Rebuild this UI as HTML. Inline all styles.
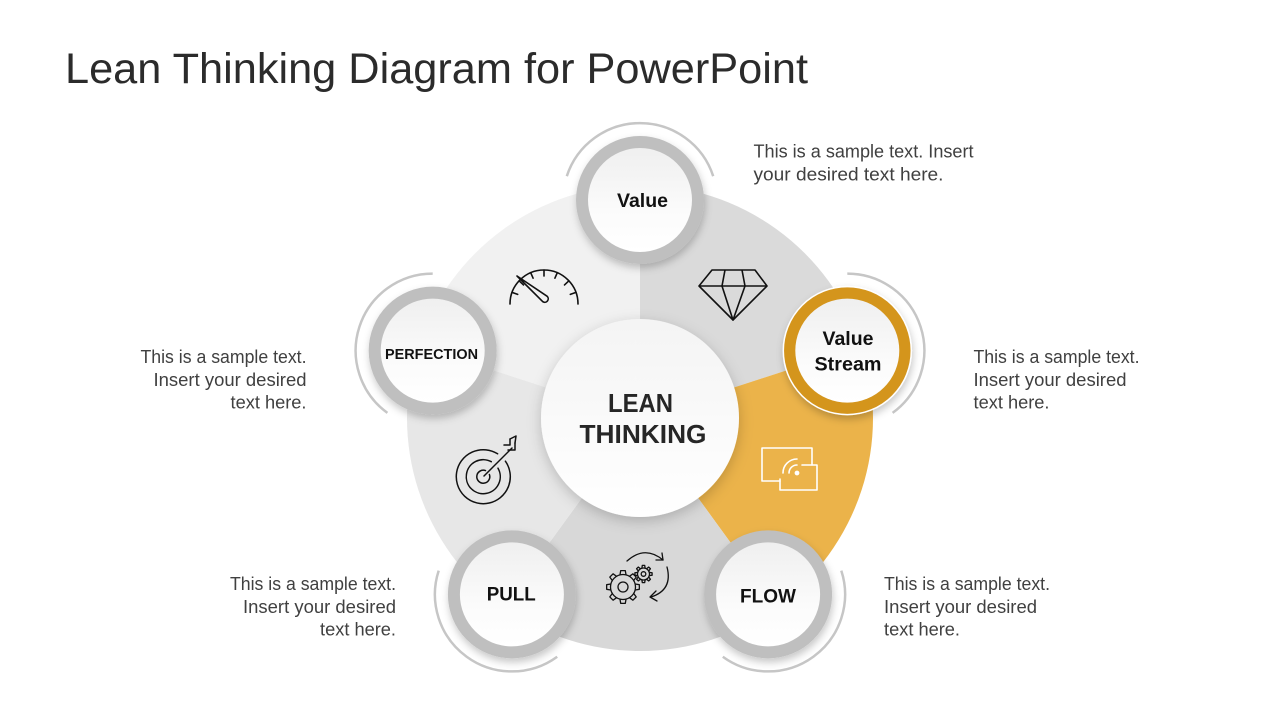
<!DOCTYPE html>
<html><head><meta charset="utf-8"><style>
html,body{margin:0;padding:0;background:#fff;}
svg{display:block;}
text{font-family:"Liberation Sans",Arial,sans-serif;}
</style></head><body>
<svg width="1280" height="720" viewBox="0 0 1280 720" xmlns="http://www.w3.org/2000/svg">
<defs>
  <filter id="sh" x="-30%" y="-30%" width="160%" height="160%">
    <feDropShadow dx="1" dy="4" stdDeviation="4" flood-color="#000" flood-opacity="0.22"/>
  </filter>
  <filter id="shc" x="-30%" y="-30%" width="160%" height="160%">
    <feDropShadow dx="0" dy="4" stdDeviation="7" flood-color="#000" flood-opacity="0.2"/>
  </filter>
  <linearGradient id="gi" x1="0" y1="0" x2="0" y2="1">
    <stop offset="0" stop-color="#efefef"/>
    <stop offset="0.6" stop-color="#fbfbfb"/>
    <stop offset="1" stop-color="#ffffff"/>
  </linearGradient>
  <linearGradient id="gc" x1="0" y1="0" x2="0" y2="1">
    <stop offset="0" stop-color="#f4f4f4"/>
    <stop offset="1" stop-color="#ffffff"/>
  </linearGradient>
</defs>

<text x="65" y="83" font-size="43" fill="#2b2b2b" textLength="743" lengthAdjust="spacingAndGlyphs">Lean Thinking Diagram for PowerPoint</text>

<path d="M640 418 L418.4 346 A233 233 0 0 1 640 185 Z" fill="#f1f1f1"/>
<path d="M640 418 L640 185 A233 233 0 0 1 861.6 346 Z" fill="#dadada"/>
<path d="M640 418 L861.6 346 A233 233 0 0 1 776.95 606.5 Z" fill="#ebb34a"/>
<path d="M640 418 L776.95 606.5 A233 233 0 0 1 503.05 606.5 Z" fill="#d8d8d8"/>
<path d="M640 418 L503.05 606.5 A233 233 0 0 1 418.4 346 Z" fill="#e7e7e7"/>

<circle cx="640" cy="418" r="99" fill="url(#gc)" filter="url(#shc)"/>
<text x="640.5" y="412" font-size="26" font-weight="bold" fill="#262626" text-anchor="middle" textLength="65" lengthAdjust="spacingAndGlyphs">LEAN</text>
<text x="643" y="443" font-size="26" font-weight="bold" fill="#262626" text-anchor="middle" textLength="127" lengthAdjust="spacingAndGlyphs">THINKING</text>

<g fill="none" stroke="#c6c6c6" stroke-width="2.5">
  <path d="M566.8 176.2 A77 77 0 0 1 713.2 176.2"/>
  <path d="M847.3 273.6 A77 77 0 0 1 892.6 412.9"/>
  <path d="M841.3 570.6 A77 77 0 0 1 722.8 656.7"/>
  <path d="M557.2 656.7 A77 77 0 0 1 438.7 570.6"/>
  <path d="M387.4 412.9 A77 77 0 0 1 432.7 273.6"/>
</g>

<g filter="url(#sh)">
  <circle cx="640" cy="200" r="64" fill="#bfbfbf"/>
  <circle cx="847.3" cy="350.6" r="64" fill="#d4951d" stroke="#fff" stroke-width="1.5"/>
  <circle cx="768.1" cy="594.4" r="64" fill="#bfbfbf"/>
  <circle cx="511.9" cy="594.4" r="64" fill="#bfbfbf"/>
  <circle cx="432.7" cy="350.6" r="64" fill="#bfbfbf"/>
</g>
<g fill="url(#gi)">
  <circle cx="640" cy="200" r="52"/>
  <circle cx="847.3" cy="350.6" r="52"/>
  <circle cx="768.1" cy="594.4" r="52"/>
  <circle cx="511.9" cy="594.4" r="52"/>
  <circle cx="432.7" cy="350.6" r="52"/>
</g>

<g font-weight="bold" fill="#111" text-anchor="middle">
  <text x="642.5" y="207" font-size="19" textLength="51" lengthAdjust="spacingAndGlyphs">Value</text>
  <text x="848" y="345" font-size="19" textLength="51" lengthAdjust="spacingAndGlyphs">Value</text>
  <text x="848" y="370.5" font-size="19" textLength="67" lengthAdjust="spacingAndGlyphs">Stream</text>
  <text x="431.5" y="359" font-size="14.5" textLength="93" lengthAdjust="spacingAndGlyphs">PERFECTION</text>
  <text x="511.2" y="600.5" font-size="19.5" textLength="49" lengthAdjust="spacingAndGlyphs">PULL</text>
  <text x="768" y="602.5" font-size="19.5" textLength="56" lengthAdjust="spacingAndGlyphs">FLOW</text>
</g>

<g fill="none" stroke="#111" stroke-width="1.6" stroke-linecap="round">
  <path d="M510 304 A34 34 0 0 1 578 304"/>
  <path d="M512 292.4 L517.7 294.4 M519.1 280.8 L523.5 284.9 M530.7 272.7 L533.1 278.2 M544 270 L544 276 M557.3 272.7 L554.9 278.2 M568.9 280.8 L564.5 284.9 M576 292.4 L570.3 294.4"/>
  <path d="M517 276 L547.2 296.3 A3.5 3.5 0 0 1 542.8 301.7 Z" fill="#f1f1f1" stroke-linejoin="round"/>
</g>
<g fill="none" stroke="#111" stroke-width="1.6" stroke-linejoin="round">
  <path d="M712 270 L755 270 L767 286 L733 320 L699 286 Z"/>
  <path d="M699 286 L767 286"/>
  <path d="M725 270 L722 286 L733 320 L745 286 L742 270"/>
</g>
<g fill="none" stroke="#fff" stroke-width="1.6" stroke-linejoin="round" stroke-linecap="round">
  <path d="M780 481 L762 481 L762 448 L812 448 L812 465"/>
  <path d="M802 465 L817 465 L817 490 L780 490 L780 479"/>
  <path d="M789 473 A8 8 0 0 1 797 465"/>
  <path d="M783 473 A14 14 0 0 1 797 459"/>
  <circle cx="797" cy="473" r="1.6" fill="#fff"/>
</g>
<g fill="none" stroke="#111" stroke-width="1.5" stroke-linecap="round" stroke-linejoin="round">
  <path d="M505.4 461.2 A27 27 0 1 1 497.6 453.8"/>
  <path d="M498 468.2 A17 17 0 1 1 491.3 461.7"/>
  <path d="M489.4 474.5 A6.5 6.5 0 1 1 485.5 470.6"/>
  <path d="M484 476 L512 448"/>
  <path d="M504 445 L510 445 L510 439"/>
  <path d="M508 450 L515 450 L515 443"/>
  <path d="M510 439 L516 436 L515 443"/>
</g>
<g fill="none" stroke="#111" stroke-width="1.3" stroke-linejoin="round" stroke-linecap="round">
  <circle cx="623" cy="587" r="12.5"/>
  <circle cx="623" cy="587" r="5"/>
  <g transform="translate(623 587)">
    <path d="M-3.02 -12.13 L-2.3 -16.34 L2.3 -16.34 L3.02 -12.13"/>
    <path d="M-3.02 -12.13 L-2.3 -16.34 L2.3 -16.34 L3.02 -12.13" transform="rotate(45)"/>
    <path d="M-3.02 -12.13 L-2.3 -16.34 L2.3 -16.34 L3.02 -12.13" transform="rotate(90)"/>
    <path d="M-3.02 -12.13 L-2.3 -16.34 L2.3 -16.34 L3.02 -12.13" transform="rotate(135)"/>
    <path d="M-3.02 -12.13 L-2.3 -16.34 L2.3 -16.34 L3.02 -12.13" transform="rotate(180)"/>
    <path d="M-3.02 -12.13 L-2.3 -16.34 L2.3 -16.34 L3.02 -12.13" transform="rotate(225)"/>
    <path d="M-3.02 -12.13 L-2.3 -16.34 L2.3 -16.34 L3.02 -12.13" transform="rotate(270)"/>
    <path d="M-3.02 -12.13 L-2.3 -16.34 L2.3 -16.34 L3.02 -12.13" transform="rotate(315)"/>
  </g>
  <circle cx="643.5" cy="574" r="6"/>
  <circle cx="643.5" cy="574" r="2.3"/>
  <g transform="translate(643.5 574)">
    <path d="M-1.6 -5.8 L-1.2 -8.6 L1.2 -8.6 L1.6 -5.8"/>
    <path d="M-1.6 -5.8 L-1.2 -8.6 L1.2 -8.6 L1.6 -5.8" transform="rotate(45)"/>
    <path d="M-1.6 -5.8 L-1.2 -8.6 L1.2 -8.6 L1.6 -5.8" transform="rotate(90)"/>
    <path d="M-1.6 -5.8 L-1.2 -8.6 L1.2 -8.6 L1.6 -5.8" transform="rotate(135)"/>
    <path d="M-1.6 -5.8 L-1.2 -8.6 L1.2 -8.6 L1.6 -5.8" transform="rotate(180)"/>
    <path d="M-1.6 -5.8 L-1.2 -8.6 L1.2 -8.6 L1.6 -5.8" transform="rotate(225)"/>
    <path d="M-1.6 -5.8 L-1.2 -8.6 L1.2 -8.6 L1.6 -5.8" transform="rotate(270)"/>
    <path d="M-1.6 -5.8 L-1.2 -8.6 L1.2 -8.6 L1.6 -5.8" transform="rotate(315)"/>
  </g>
  <path d="M627 561 Q645 545 663 560"/>
  <path d="M656 560 L663 560 L662 553"/>
  <path d="M667 567 Q673 590 651 597"/>
  <path d="M656 591 L650 597 L657 601"/>
</g>

<g font-size="18" fill="#404040">
  <text x="753.5" y="157.5" textLength="220" lengthAdjust="spacingAndGlyphs">This is a sample text. Insert</text>
  <text x="753.5" y="180.5" textLength="190" lengthAdjust="spacingAndGlyphs">your desired text here.</text>

  <text x="140.5" y="363" textLength="166" lengthAdjust="spacingAndGlyphs">This is a sample text.</text>
  <text x="153.5" y="386" textLength="153" lengthAdjust="spacingAndGlyphs">Insert your desired</text>
  <text x="230.5" y="408.5" textLength="76" lengthAdjust="spacingAndGlyphs">text here.</text>

  <text x="973.5" y="363" textLength="166" lengthAdjust="spacingAndGlyphs">This is a sample text.</text>
  <text x="973.5" y="386" textLength="153" lengthAdjust="spacingAndGlyphs">Insert your desired</text>
  <text x="973.5" y="408.5" textLength="76" lengthAdjust="spacingAndGlyphs">text here.</text>

  <text x="230" y="590" textLength="166" lengthAdjust="spacingAndGlyphs">This is a sample text.</text>
  <text x="243" y="613" textLength="153" lengthAdjust="spacingAndGlyphs">Insert your desired</text>
  <text x="320" y="635.5" textLength="76" lengthAdjust="spacingAndGlyphs">text here.</text>

  <text x="884" y="590" textLength="166" lengthAdjust="spacingAndGlyphs">This is a sample text.</text>
  <text x="884" y="613" textLength="153" lengthAdjust="spacingAndGlyphs">Insert your desired</text>
  <text x="884" y="635.5" textLength="76" lengthAdjust="spacingAndGlyphs">text here.</text>
</g>
</svg>
</body></html>
